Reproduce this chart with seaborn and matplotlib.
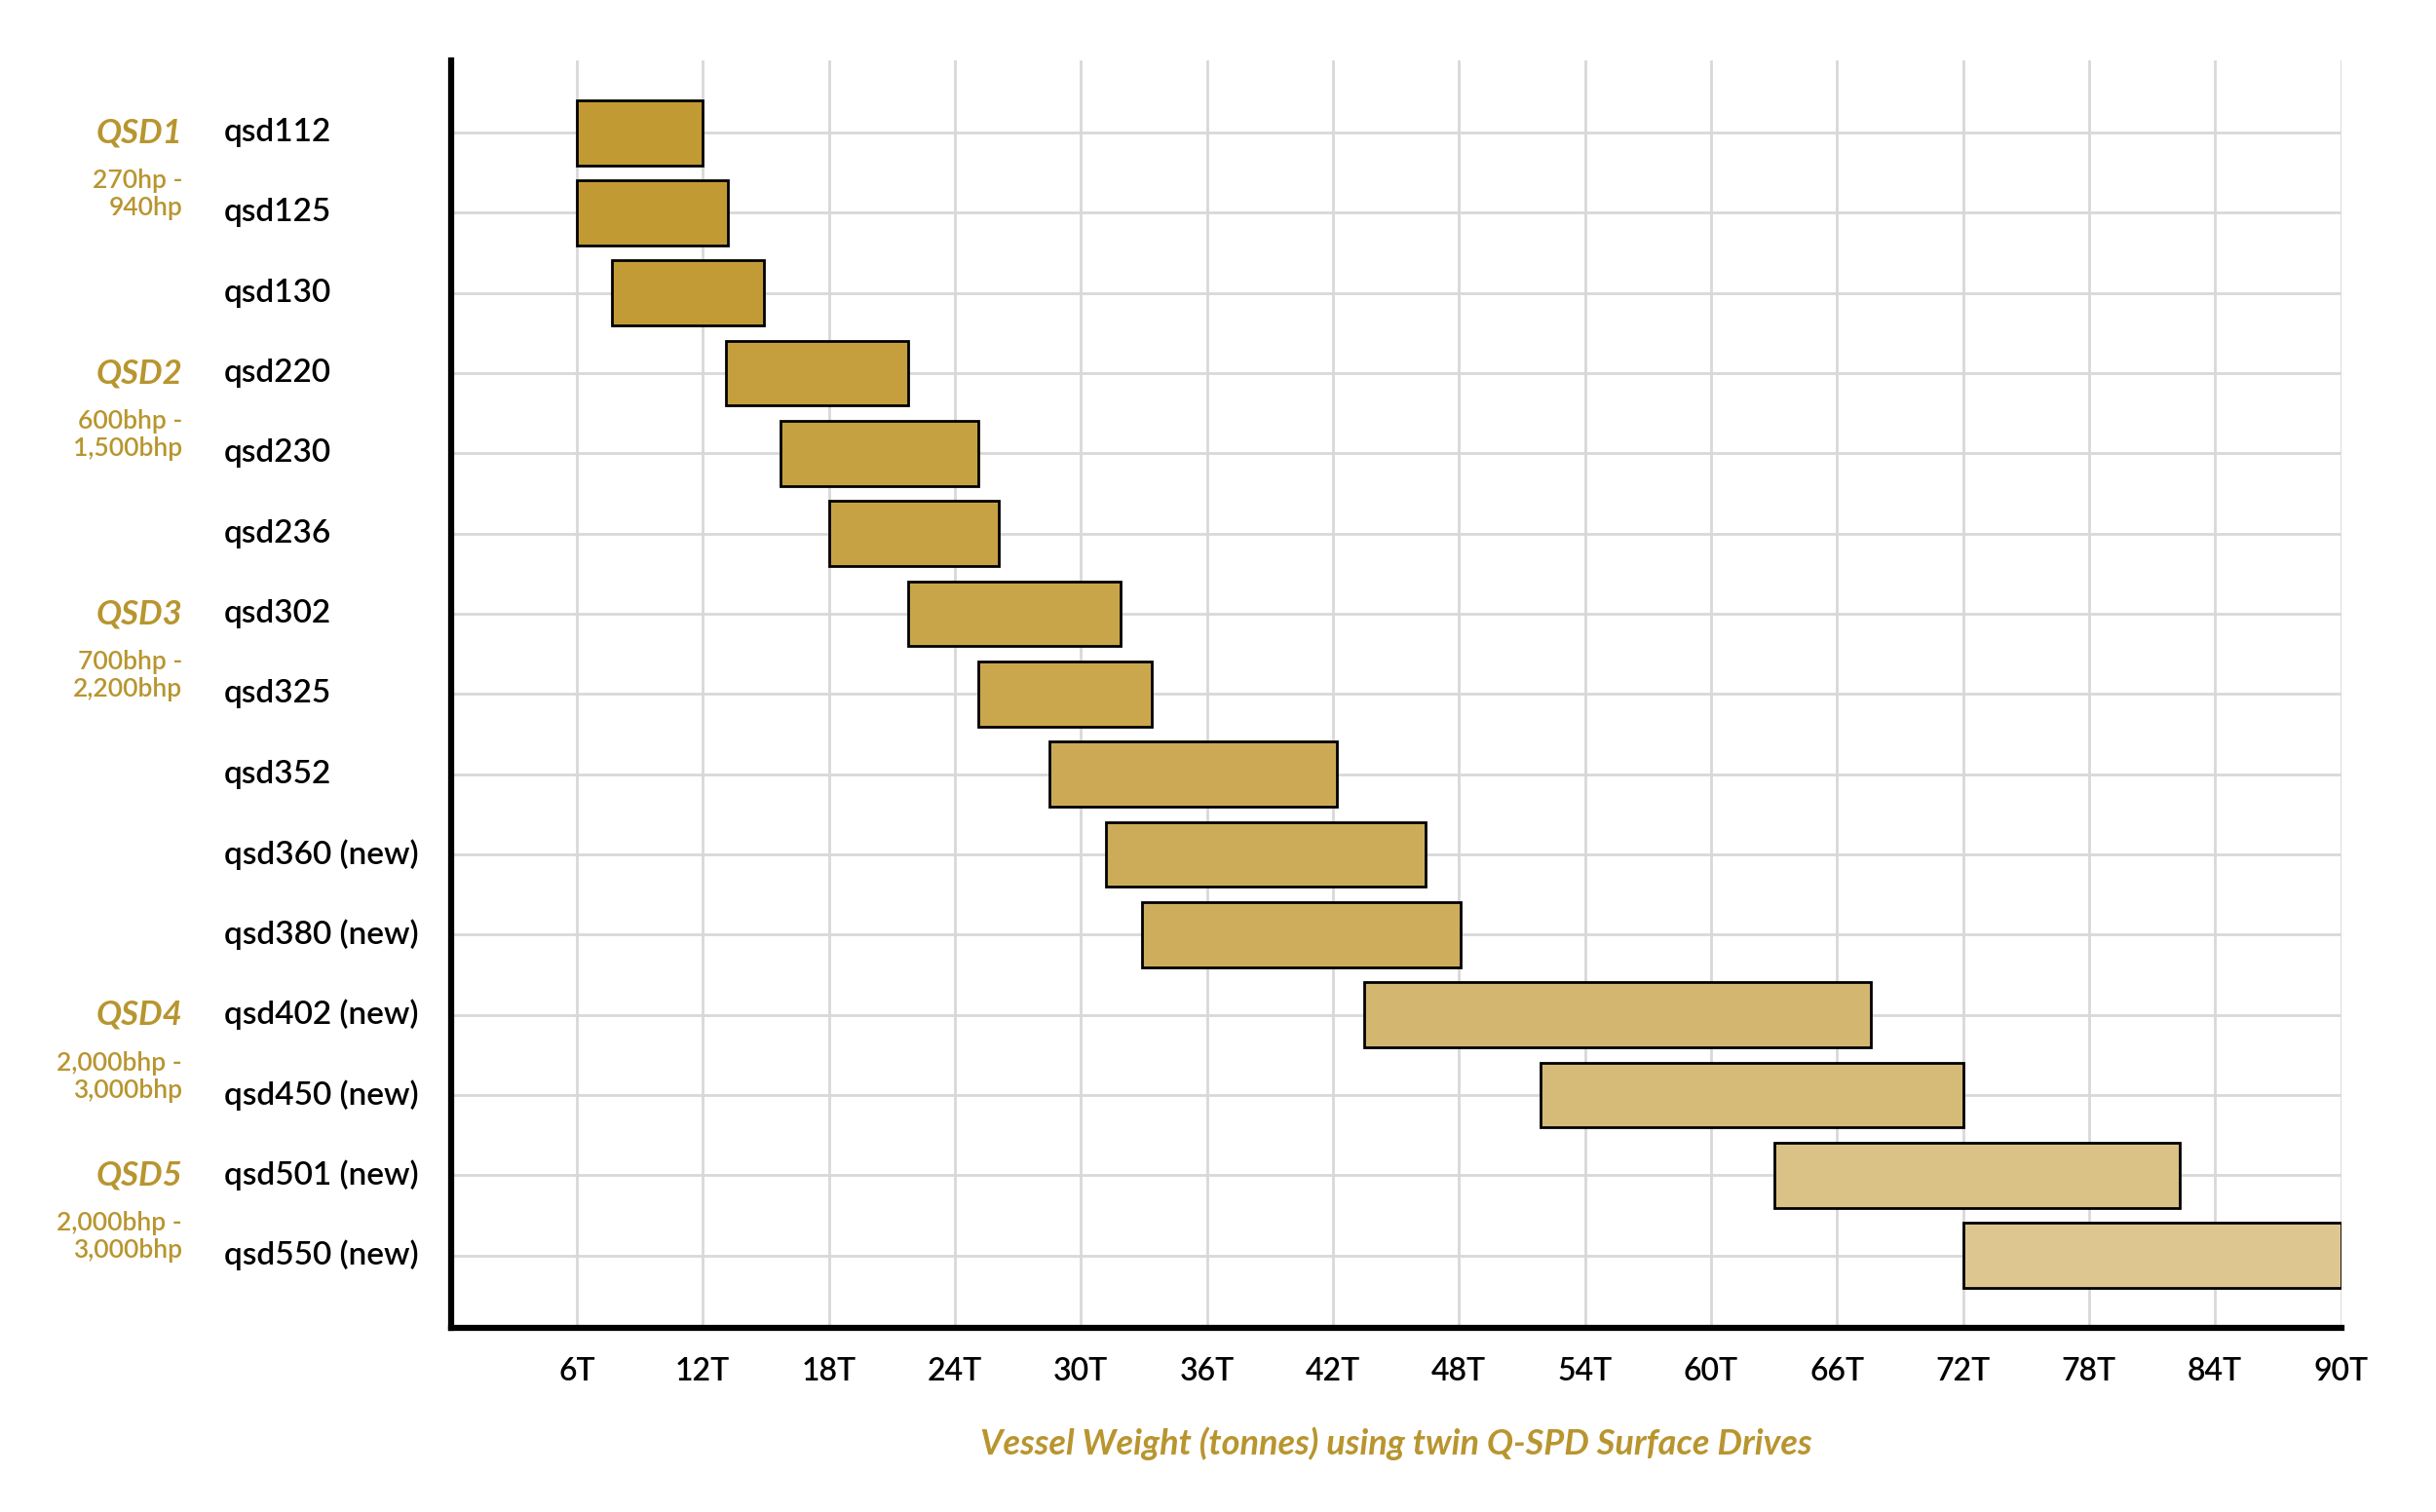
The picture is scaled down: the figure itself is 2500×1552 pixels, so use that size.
import matplotlib
matplotlib.use("Agg")
import matplotlib.pyplot as plt
import seaborn as sns
import numpy as np
from matplotlib.colors import LinearSegmentedColormap

models = ["qsd112","qsd125","qsd130","qsd220","qsd230","qsd236","qsd302","qsd325",
          "qsd352","qsd360 (new)","qsd380 (new)","qsd402 (new)","qsd450 (new)",
          "qsd501 (new)","qsd550 (new)"]
start = [6,6,7.7,13.1,15.7,18,21.8,25.1,28.5,31.2,32.9,43.5,51.9,63,72]
end = [12,13.2,14.9,21.8,25.1,26.1,31.9,33.4,42.2,46.4,48.1,67.6,72,82.3,90]
groups = [("QSD1","270hp -\n940hp",0),("QSD2","600bhp -\n1,500bhp",3),
          ("QSD3","700bhp -\n2,200bhp",6),("QSD4","2,000bhp -\n3,000bhp",11),
          ("QSD5","2,000bhp -\n3,000bhp",13)]
ticks = list(range(6,91,6))
tick_labels = [f"{t}T" for t in ticks]

sns.set_theme(style="white")
plt.rcParams['font.family'] = ['Lato','DejaVu Sans']
gold = "#b8952f"
fig = plt.figure(figsize=(25,15.52), dpi=100)
ax = fig.add_axes([0.185,0.122,0.791-0.015,0.838])
cmap = LinearSegmentedColormap.from_list("g", ["#c29a33","#ddc690"])
ypos = np.arange(len(models))
for i,(s,e) in enumerate(zip(start,end)):
    c = cmap(((s+e)/2-9)/72)
    ax.barh(i, e-s, left=s, height=0.81, color=c, edgecolor="black", linewidth=2, zorder=3)
ax.set_xlim(0,90)
ax.set_ylim(len(models)-1+0.9, -0.9)
ax.set_xticks(ticks)
ax.set_xticklabels(tick_labels, fontsize=23, color="black", fontweight="semibold")
ax.set_yticks(ypos)
ax.set_yticklabels([])
ax.grid(True, color="#d8d8d8", linewidth=2, zorder=0)
for sp in ["top","right"]:
    ax.spines[sp].set_visible(False)
for sp in ["left","bottom"]:
    ax.spines[sp].set_color("black"); ax.spines[sp].set_linewidth(4.5)
ax.tick_params(axis="both", length=0, pad=22)
trans = ax.get_yaxis_transform()
for i,m in enumerate(models):
    ax.text(-0.12, i, m, transform=trans, ha="left", va="center", fontsize=24,
            color="black", fontweight="semibold")
for name, hp, i in groups:
    ax.text(-0.142, i, name, transform=trans, ha="right", va="center", fontsize=25,
            color=gold, fontweight="bold", fontstyle="italic")
    ax.text(-0.142, i+0.77, hp, transform=trans, ha="right", va="center", fontsize=19,
            color=gold, linespacing=1.15, fontweight="semibold")
ax.set_xlabel("Vessel Weight (tonnes) using twin Q-SPD Surface Drives", fontsize=26,
              color=gold, fontweight="bold", fontstyle="italic", labelpad=30)
fig.savefig("out.png", dpi=100)
